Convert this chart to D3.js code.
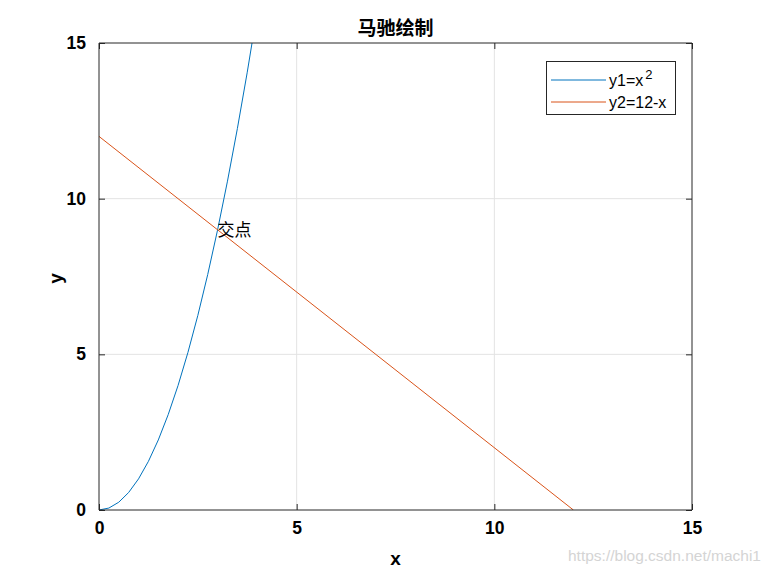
<!DOCTYPE html>
<html><head><meta charset="utf-8">
<script src="https://cdn.jsdelivr.net/npm/d3@7"></script>
<style>body{margin:0;background:#fff}svg{display:block}</style>
</head><body>
<script>
const xTicks = [0, 5, 10, 15];
const yTicks = [0, 5, 10, 15];
const x1 = [0,0.25,0.5,0.75,1,1.25,1.5,1.75,2,2.25,2.5,2.75,3,3.25,3.5,3.75,4];
const y1 = [0,0.0625,0.25,0.5625,1,1.5625,2.25,3.0625,4,5.0625,6.25,7.5625,9,10.5625,12.25,14.0625,16];
const x2 = [0,12];
const y2 = [12,0];
const labelPoint = {x:3, y:9, text:"交点"};
const title = "马驰绘制";

const W=766,H=575;
const svg=d3.select("body").append("svg").attr("width",W).attr("height",H);
const m={l:99,r:692,t:43,b:510};
const xs=d3.scaleLinear().domain([0,15]).range([m.l,m.r]);
const ys=d3.scaleLinear().domain([0,15]).range([m.b,m.t]);
const font="Arial, 'Liberation Sans', Helvetica, sans-serif";
const axCol="#262626";

svg.append("rect").attr("x",m.l).attr("y",m.t).attr("width",m.r-m.l).attr("height",m.b-m.t).attr("fill","#fff");

// grid
const g=svg.append("g");
g.selectAll(".gx").data(xTicks.filter(d=>d>0&&d<15)).join("line")
 .attr("x1",d=>xs(d)).attr("x2",d=>xs(d)).attr("y1",m.t).attr("y2",m.b)
 .attr("stroke","#e3e3e3").attr("stroke-width",1);
g.selectAll(".gy").data(yTicks.filter(d=>d>0&&d<15)).join("line")
 .attr("y1",d=>ys(d)).attr("y2",d=>ys(d)).attr("x1",m.l).attr("x2",m.r)
 .attr("stroke","#e3e3e3").attr("stroke-width",1);

// clip
svg.append("clipPath").attr("id","clip").append("rect")
 .attr("x",m.l).attr("y",m.t).attr("width",m.r-m.l).attr("height",m.b-m.t);

const line=d3.line().x(d=>xs(d[0])).y(d=>ys(d[1]));
svg.append("path").attr("clip-path","url(#clip)")
 .attr("d",line(x1.map((v,i)=>[v,y1[i]]))).attr("fill","none").attr("stroke","#0072BD").attr("stroke-width",1);
svg.append("path").attr("clip-path","url(#clip)")
 .attr("d",line(x2.map((v,i)=>[v,y2[i]]))).attr("fill","none").attr("stroke","#D95319").attr("stroke-width",1);

// axes
const xAxB=d3.axisBottom(xs).tickValues(xTicks).tickSize(-6).tickPadding(12).tickFormat(d3.format("d"));
const xAxT=d3.axisTop(xs).tickValues(xTicks).tickSize(-6).tickFormat("");
const yAxL=d3.axisLeft(ys).tickValues(yTicks).tickSize(-6).tickPadding(13).tickFormat(d3.format("d"));
const yAxR=d3.axisRight(ys).tickValues(yTicks).tickSize(-6).tickFormat("");
function style(sel){
  sel.selectAll("path").attr("stroke",axCol).attr("stroke-width",1);
  sel.selectAll("line").attr("stroke",axCol);
  sel.selectAll("text").attr("fill","#000").style("font-family",font).style("font-size","17.5px").style("font-weight","bold");
}
svg.append("g").attr("transform",`translate(0,${m.b})`).call(xAxB).call(style).call(s=>s.selectAll(".domain").attr("d",`M${m.l},0H${m.r}`));
svg.append("g").attr("transform",`translate(0,${m.t})`).call(xAxT).call(style).call(s=>s.selectAll(".domain").attr("d",`M${m.l},0H${m.r}`));
svg.append("g").attr("transform",`translate(${m.l},0)`).call(yAxL).call(style).call(s=>s.selectAll(".domain").attr("d",`M0,${m.t}V${m.b}`));
svg.append("g").attr("transform",`translate(${m.r},0)`).call(yAxR).call(style).call(s=>s.selectAll(".domain").attr("d",`M0,${m.t}V${m.b}`));

// label point
svg.append("text").attr("x",xs(labelPoint.x)).attr("y",ys(labelPoint.y)).attr("dy","0.38em")
 .style("font-family","'Noto Sans CJK SC', sans-serif").style("font-size","17px").attr("fill","#000").text(labelPoint.text);

// title & labels
svg.append("text").attr("x",(m.l+m.r)/2).attr("y",35).attr("text-anchor","middle")
 .style("font-family","'Noto Sans CJK SC', sans-serif").style("font-size","19px").style("font-weight","bold").text(title);
svg.append("text").attr("x",(m.l+m.r)/2).attr("y",565).attr("text-anchor","middle")
 .style("font-family",font).style("font-size","19px").style("font-weight","bold").text("x");
svg.append("text").attr("transform",`translate(62,${(m.t+m.b)/2+2}) rotate(-90)`).attr("text-anchor","middle")
 .style("font-family",font).style("font-size","19px").style("font-weight","bold").text("y");

// legend
const lg=svg.append("g");
lg.append("rect").attr("x",546.5).attr("y",61.5).attr("width",129).attr("height",53).attr("fill","#fff").attr("stroke",axCol).attr("stroke-width",1);
const items=[{c:"#0072BD",t:"y1=x",sup:"2",y:80},{c:"#D95319",t:"y2=12-x",y:102}];
items.forEach(it=>{
  lg.append("line").attr("x1",551).attr("x2",606).attr("y1",it.y).attr("y2",it.y).attr("stroke",it.c).attr("stroke-width",1);
  const t=lg.append("text").attr("x",609).attr("y",it.y).attr("dy","0.36em")
   .style("font-family",font).style("font-size","16px").attr("fill","#000").text(it.t);
  if(it.sup) t.append("tspan").attr("dx",2).attr("dy","-0.5em").style("font-size","13px").text(it.sup);
});

// watermark
svg.append("text").attr("x",761).attr("y",561).attr("text-anchor","end")
 .style("font-family",font).style("font-size","15.5px").attr("fill","#d4d4d4").text("https://blog.csdn.net/machi1");
</script>
</body></html>
